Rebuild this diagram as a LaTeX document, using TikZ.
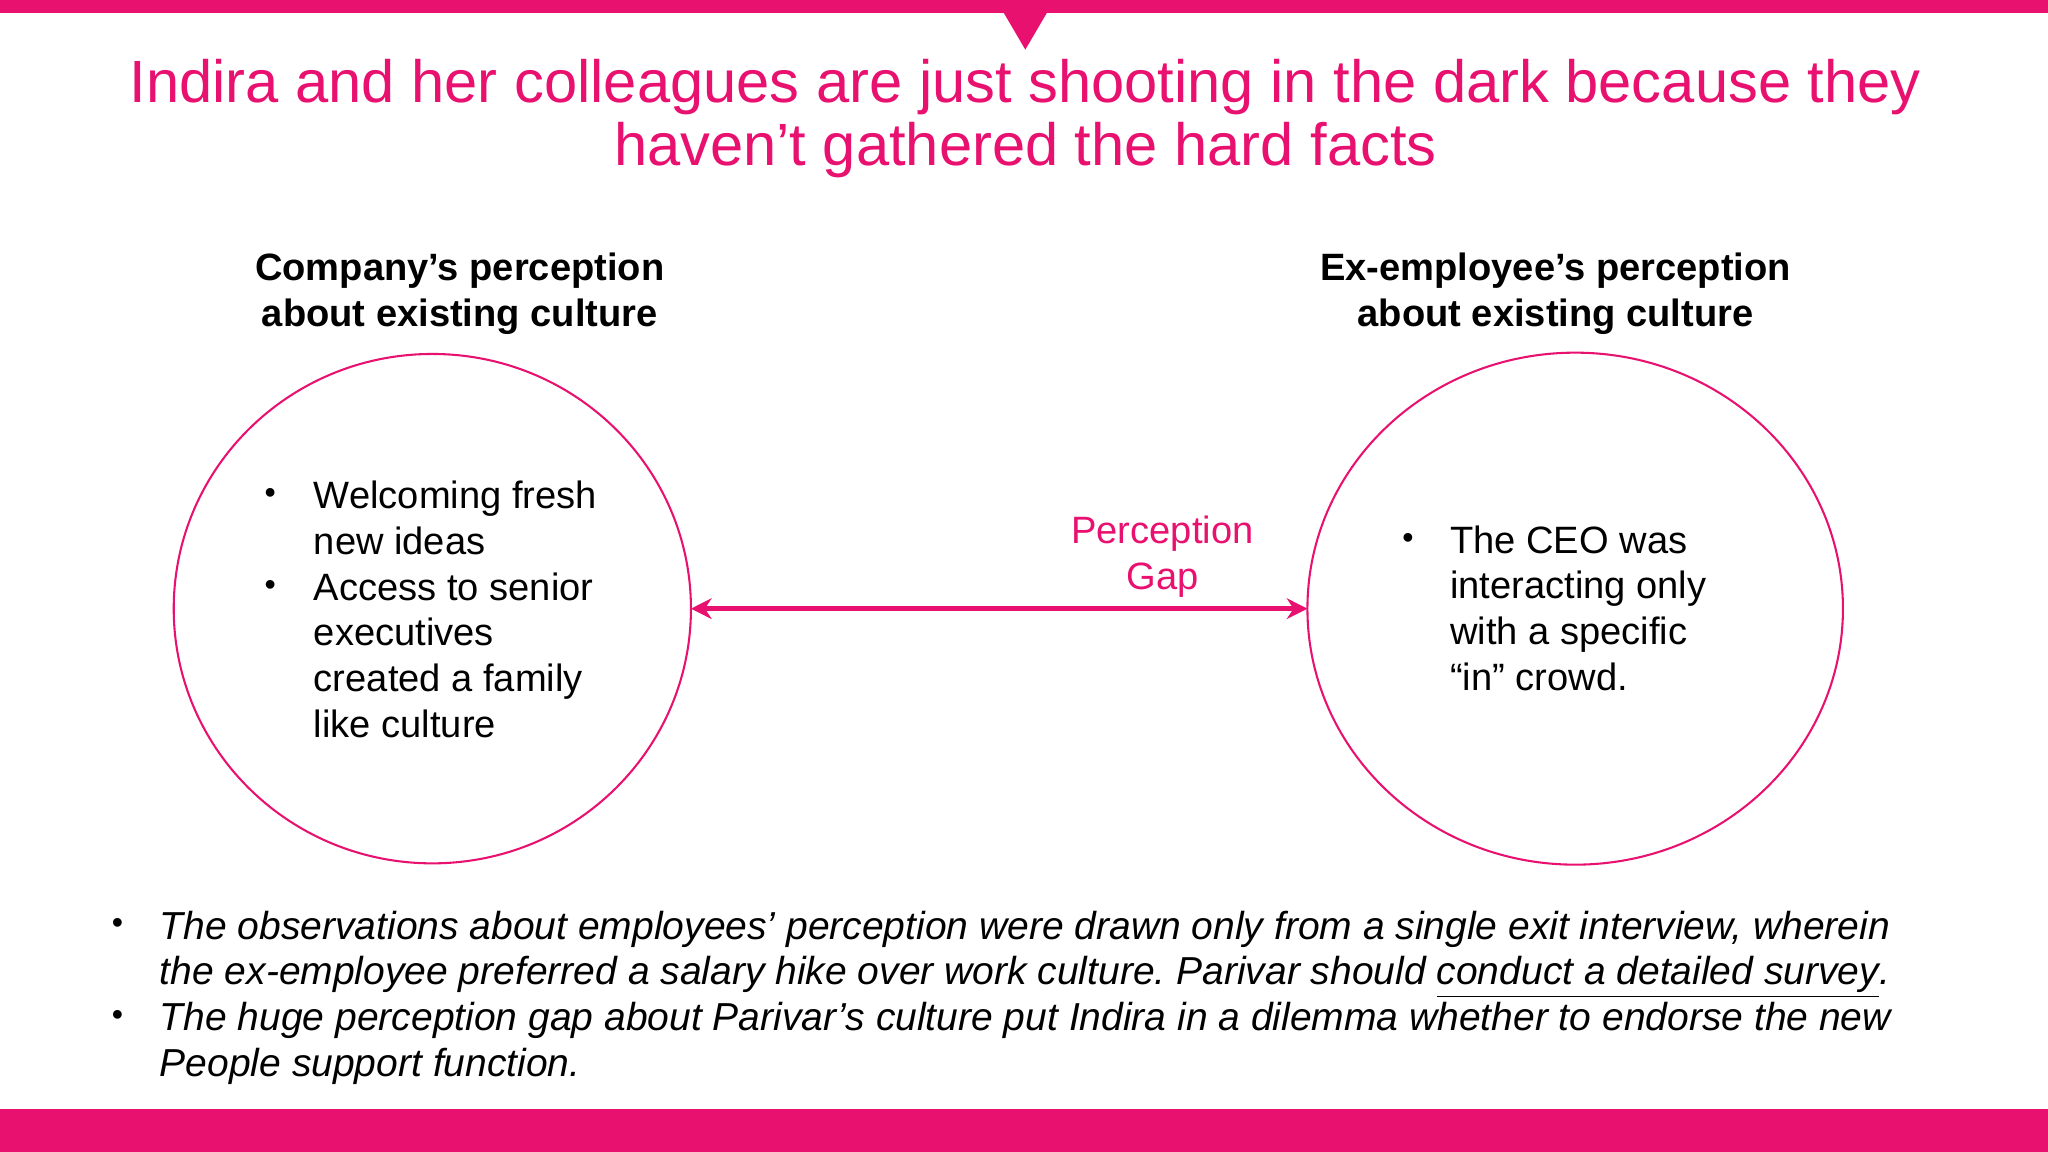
\documentclass[tikz,border=0pt]{standalone}
\usepackage{fontspec}
\setmainfont{Liberation Sans}
\usetikzlibrary{arrows.meta}
\definecolor{pk}{HTML}{E8116F}
\frenchspacing
\tikzset{
  hd/.style={font=\fontsize{16.6}{20}\selectfont\bfseries, align=center, text=black},
  bl/.style={font=\fontsize{16.6}{19.9}\selectfont, align=left, anchor=north west, inner sep=0pt},
  bb/.style={font=\fontsize{17}{19.9}\selectfont\itshape, align=left, anchor=north west, inner sep=0pt},
  dot/.style={font=\fontsize{14}{19.9}\selectfont, anchor=north, inner sep=0pt},
  circ/.style={draw=pk, line width=0.9pt}
}
\begin{document}
\begin{tikzpicture}[x=0.02cm,y=-0.02cm]
\useasboundingbox (0,0) rectangle (1568,882);
\fill[pk] (0,0) rectangle (1568,10);
\fill[pk] (768,9) -- (802,9) -- (785,38) -- cycle;
\fill[pk] (0,849) rectangle (1568,882);
\node[font=\fontsize{26}{27.3}\selectfont, text=pk, align=center] (title) at (785,91) {Indira and her colleagues are just shooting in the dark because they\\haven’t gathered the hard facts};
\node[hd] (h1) at (352,225) {Company’s perception\\about existing culture};
\node[hd] (h2) at (1191,225) {Ex-employee’s perception\\about existing culture};
\draw[circ] (331,466) ellipse [x radius=198, y radius=195];
\draw[circ] (1206,466) ellipse [x radius=205, y radius=196];
\coordinate (a1) at (529,466);
\coordinate (a2) at (1001,466);
\draw[pk, line width=2.4pt, {Stealth[length=9pt,width=9pt]}-{Stealth[length=9pt,width=9pt]}] (a1) -- (a2);
\node[font=\fontsize{16.6}{19.9}\selectfont, text=pk, align=center] (gap) at (890,426) {Perception\\Gap};
\node[dot] (d1) at (207,374) {•};
\node[bl] (b1) at (240,368) {Welcoming fresh\\new ideas};
\node[dot] (d2) at (207,444) {•};
\node[bl] (b2) at (240,438) {Access to senior\\executives\\created a family\\like culture};
\node[dot] (d3) at (1078,408) {•};
\node[bl] (b3) at (1110,402) {The CEO was\\interacting only\\with a specific\\“in” crowd.};
\node[dot] (d4) at (90,703) {•};
\node[bb] (t1) at (122,697) {The observations about employees’ perception were drawn only from a single exit interview, wherein\\the ex-employee preferred a salary hike over work culture. Parivar should \underline{conduct a detailed survey}.};
\node[dot] (d5) at (90,773) {•};
\node[bb] (t2) at (122,767) {The huge perception gap about Parivar’s culture put Indira in a dilemma whether to endorse the new\\People support function.};
\end{tikzpicture}
\end{document}
